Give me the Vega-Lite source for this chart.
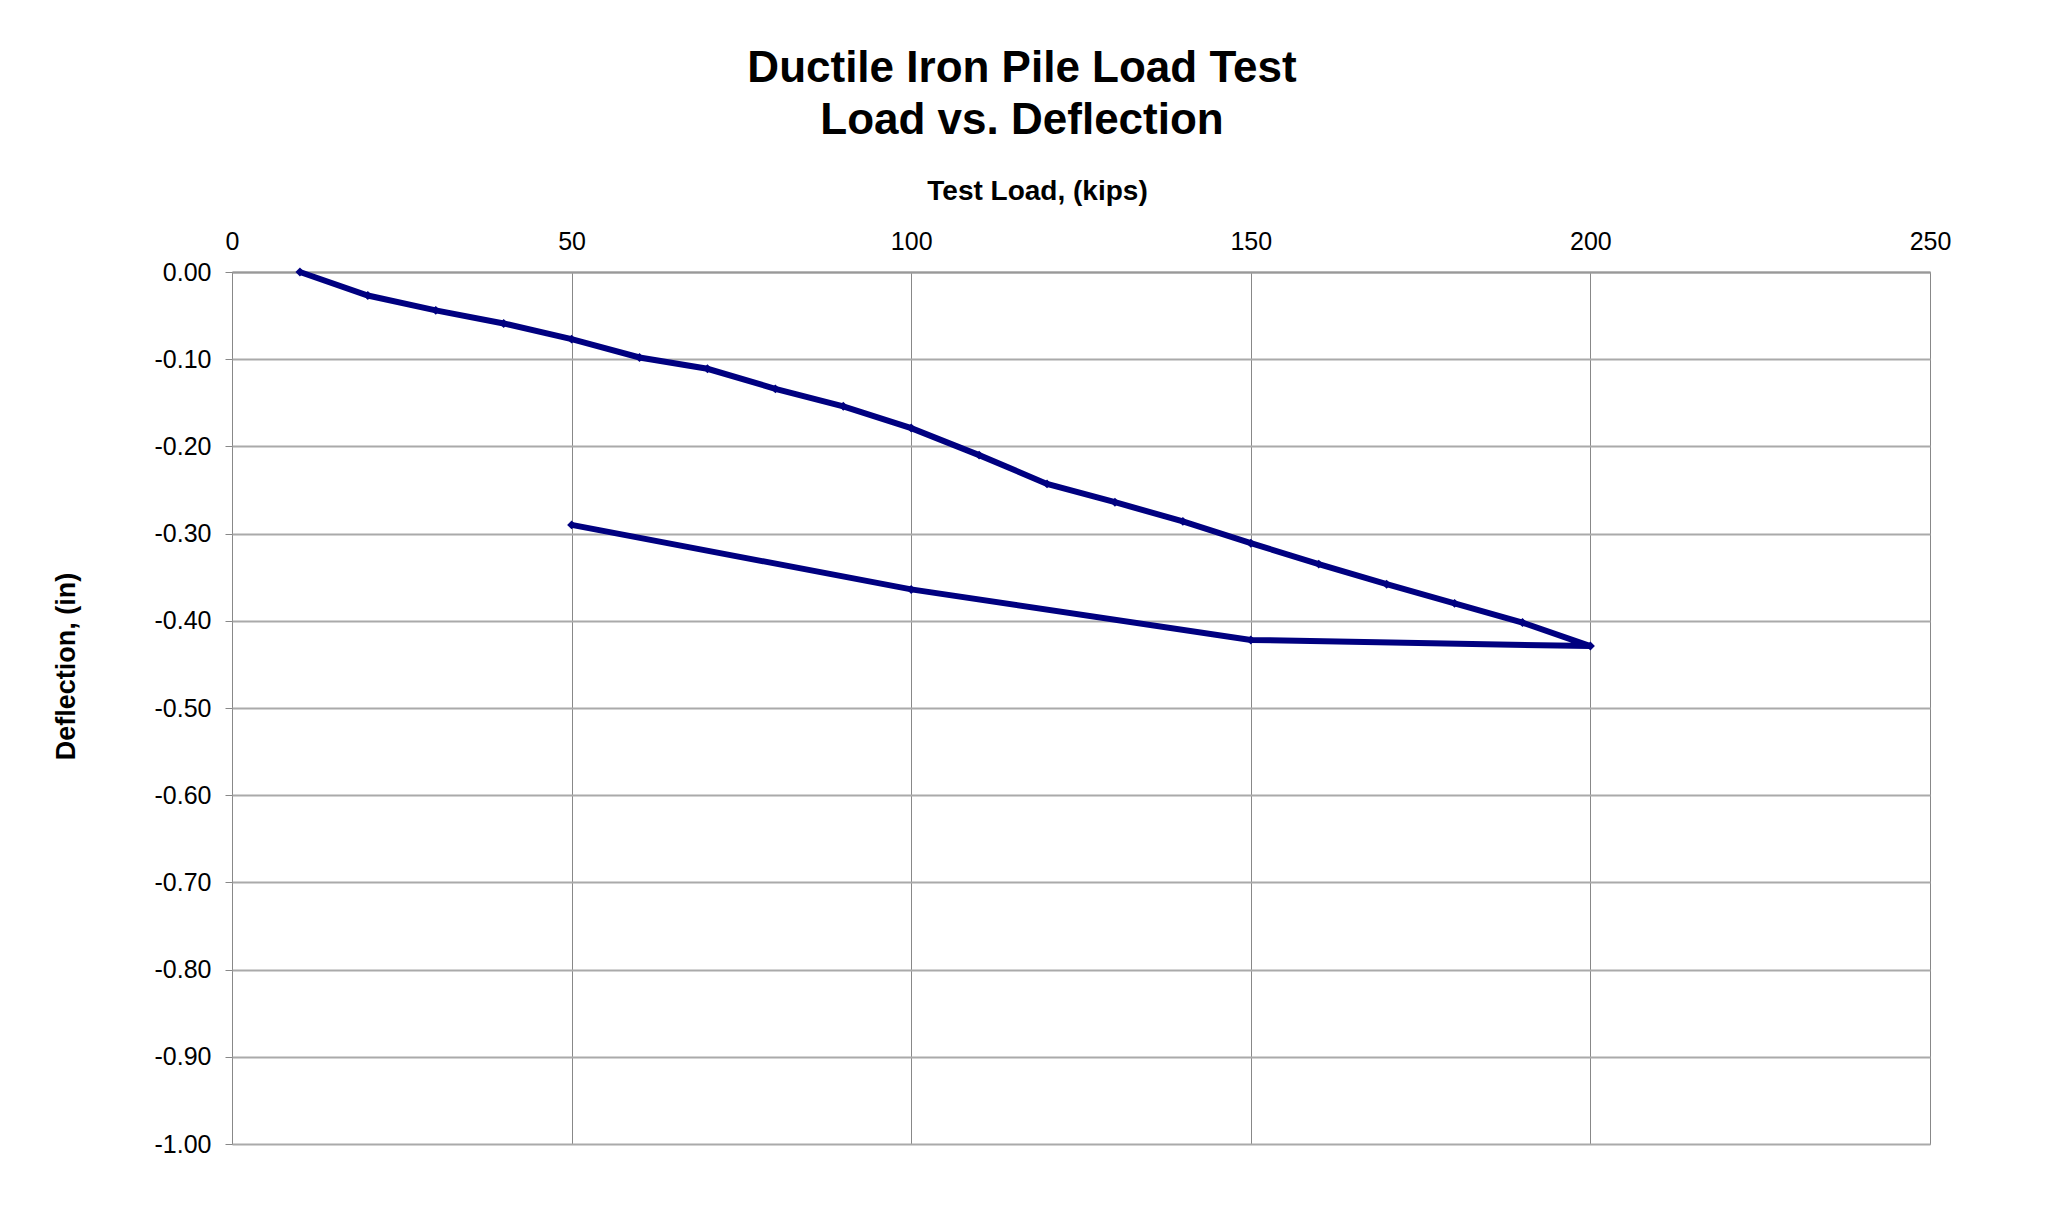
{
  "$schema": "https://vega.github.io/schema/vega-lite/v6.json",
  "autosize": {"type": "none"},
  "width": 1698,
  "height": 872,
  "padding": {"left": 232, "top": 272, "right": 118, "bottom": 74},
  "background": "white",
  "title": {
    "text": ["Ductile Iron Pile Load Test", "Load vs. Deflection"],
    "font": "Liberation Sans",
    "fontSize": 44,
    "fontWeight": "bold",
    "color": "black",
    "lineHeight": 52,
    "anchor": "middle",
    "dx": -59,
    "offset": 34
  },
  "data": {
    "values": [
      {"order": 1, "load": 10, "deflection": 0.000},
      {"order": 2, "load": 20, "deflection": -0.027},
      {"order": 3, "load": 30, "deflection": -0.044},
      {"order": 4, "load": 40, "deflection": -0.059},
      {"order": 5, "load": 50, "deflection": -0.077},
      {"order": 6, "load": 60, "deflection": -0.098},
      {"order": 7, "load": 70, "deflection": -0.111},
      {"order": 8, "load": 80, "deflection": -0.134},
      {"order": 9, "load": 90, "deflection": -0.154},
      {"order": 10, "load": 100, "deflection": -0.179},
      {"order": 11, "load": 110, "deflection": -0.210},
      {"order": 12, "load": 120, "deflection": -0.243},
      {"order": 13, "load": 130, "deflection": -0.264},
      {"order": 14, "load": 140, "deflection": -0.286},
      {"order": 15, "load": 150, "deflection": -0.311},
      {"order": 16, "load": 160, "deflection": -0.335},
      {"order": 17, "load": 170, "deflection": -0.358},
      {"order": 18, "load": 180, "deflection": -0.380},
      {"order": 19, "load": 190, "deflection": -0.402},
      {"order": 20, "load": 200, "deflection": -0.429},
      {"order": 21, "load": 150, "deflection": -0.422},
      {"order": 22, "load": 100, "deflection": -0.364},
      {"order": 23, "load": 50, "deflection": -0.290}
    ]
  },
  "mark": {
    "type": "line",
    "color": "#000080",
    "strokeWidth": 6,
    "point": {"shape": "diamond", "size": 80, "filled": true, "color": "#000080"}
  },
  "encoding": {
    "x": {
      "field": "load",
      "type": "quantitative",
      "scale": {"domain": [0, 250], "nice": false, "zero": false},
      "axis": {
        "orient": "top",
        "title": "Test Load, (kips)",
        "values": [0, 50, 100, 150, 200, 250],
        "titleFont": "Liberation Sans",
        "titleFontSize": 28,
        "titleFontWeight": "bold",
        "titleColor": "black",
        "titlePadding": 24,
        "titleX": 805,
        "labelFont": "Liberation Sans",
        "labelFontSize": 25,
        "labelColor": "black",
        "labelPadding": 18,
        "labelFlush": false,
        "ticks": false,
        "domainColor": "#999999",
        "domainWidth": 2,
        "grid": true,
        "gridColor": "#888888",
        "gridWidth": 1
      }
    },
    "y": {
      "field": "deflection",
      "type": "quantitative",
      "scale": {"domain": [-1, 0], "nice": false, "zero": false},
      "axis": {
        "title": "Deflection, (in)",
        "values": [0, -0.1, -0.2, -0.3, -0.4, -0.5, -0.6, -0.7, -0.8, -0.9, -1.0],
        "labelExpr": "replace(format(datum.value, '.2f'), '\u2212', '-')",
        "titleFont": "Liberation Sans",
        "titleFontSize": 27,
        "titleFontWeight": "bold",
        "titleColor": "black",
        "titlePadding": 74,
        "titleY": 394,
        "labelFont": "Liberation Sans",
        "labelFontSize": 25,
        "labelColor": "black",
        "labelPadding": 14,
        "ticks": true,
        "tickSize": 7,
        "tickColor": "#888888",
        "domain": false,
        "grid": true,
        "gridColor": "#aaaaaa",
        "gridWidth": 2
      }
    },
    "order": {"field": "order", "type": "quantitative"}
  },
  "config": {
    "view": {"stroke": "#999999", "strokeWidth": 1}
  }
}
